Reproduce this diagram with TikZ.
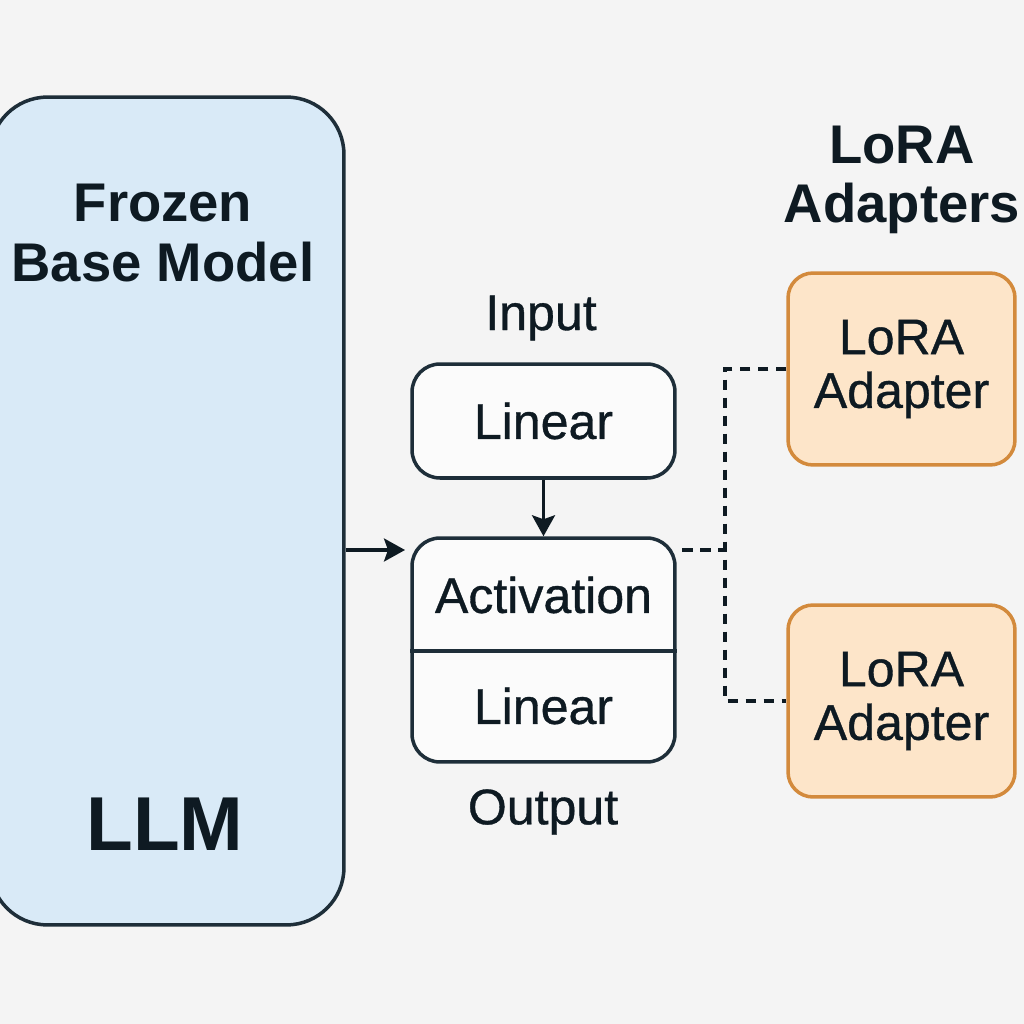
\documentclass[tikz,border=0pt]{standalone}
\usepackage{fontspec}
\setmainfont{Liberation Sans}
\newfontfamily\medfont{Liberation Sans}[FakeBold=0.7]
\usetikzlibrary{arrows.meta}

\definecolor{paper}{HTML}{F4F4F4}
\definecolor{ink}{HTML}{0E1A22}
\definecolor{edge}{HTML}{1E2E39}
\definecolor{frozen}{HTML}{D9EAF7}
\definecolor{lorafill}{HTML}{FDE5C9}
\definecolor{loraedge}{HTML}{D38A3C}

\tikzset{
  box/.style={draw=edge, line width=2pt, fill=white!60!paper, rounded corners=0.56cm,
    minimum width=5.26cm, text=ink, font=\medfont\fontsize{28.5}{30}\selectfont},
  adapter/.style={draw=loraedge, line width=2pt, fill=lorafill, rounded corners=0.5cm,
    minimum width=4.54cm, minimum height=3.84cm, align=center, text=ink,
    font=\medfont\fontsize{28.5}{30.5}\selectfont},
  label/.style={text=ink, font=\medfont\fontsize{28.5}{30}\selectfont},
  title/.style={text=ink, align=center, font=\fontsize{31}{34}\selectfont\bfseries},
  arr/.style={draw=ink, line width=1.8pt, -{Stealth[length=0.42cm,width=0.46cm,inset=0.08cm]}},
  link/.style={draw=ink, line width=2pt, dash pattern=on 0.21cm off 0.15cm}
}

\begin{document}
\begin{tikzpicture}[x=0.02cm,y=-0.02cm]
\clip (0,0) rectangle (1024,1024);
\fill[paper] (0,0) rectangle (1024,1024);

% frozen model
\node[draw=edge, line width=2pt, fill=frozen, rounded corners=1.15cm,
  minimum width=7.08cm, minimum height=16.56cm] (llm) at (167,511) {};
\node[title] (frz) at (163,233) {Frozen\\Base Model};
\node[text=ink, font=\fontsize{43.5}{45}\selectfont\bfseries] (llmlab) at (165,824) {LLM};

% layer
\node[label] (inp) at (541,318) {Input};
\node[box, minimum height=2.28cm] (lin1) at (543.5,421) {Linear};
\node[box, minimum height=4.48cm] (block) at (543.5,650) {};
\node[label] (act) at (543.5,595) {Activation};
\node[label] (lin2) at (543.5,706) {Linear};
\draw[edge, line width=2pt] (block.west |- 0,651) -- (block.east |- 0,651);
\node[label] (outp) at (543,812) {Output};

% adapters
\node[title] (lora) at (902,180) {LoRA\\Adapters};
\node[adapter] (ad1) at (901.5,369) {LoRA\\Adapter};
\node[adapter] (ad2) at (901.5,701) {LoRA\\Adapter};

\coordinate (feed) at (380,550);
\coordinate (bus) at (725,550);
\draw[arr] (llm.east |- feed) -- ([xshift=-3pt]block.west |- feed);
\draw[arr] (lin1.south) -- (block.north);
\draw[link] ([xshift=3pt]block.east |- bus) -- (bus);
\draw[link] (ad1.west) -| (bus) |- (ad2.west);
\end{tikzpicture}
\end{document}
